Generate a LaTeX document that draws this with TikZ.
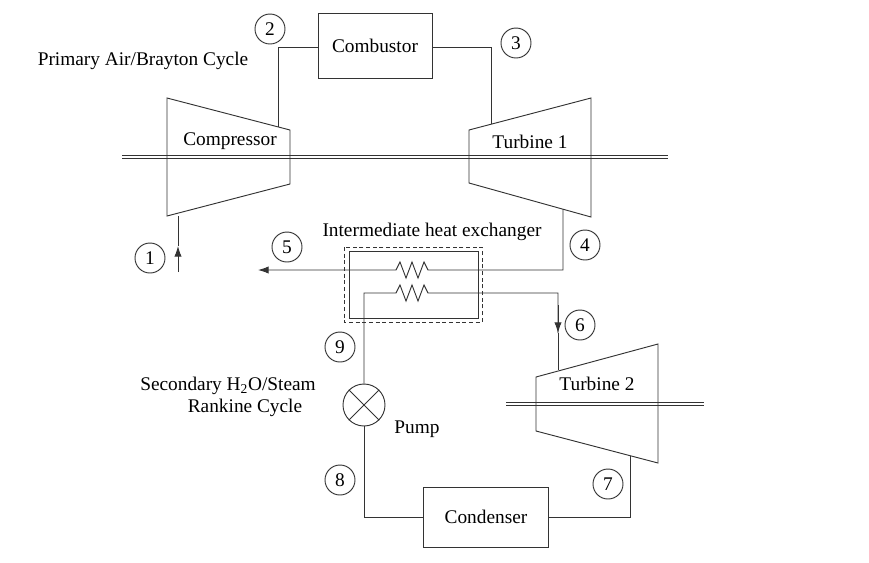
\documentclass[tikz,border=0pt]{standalone}
\usepackage{fontspec}
\setmainfont{Liberation Serif}
\usetikzlibrary{arrows.meta}
\begin{document}
\begin{tikzpicture}[x=0.75pt,y=-0.75pt,
  line width=0.7pt, draw=black!80,
  lbl/.style={font=\fontsize{14.5}{17}\selectfont},
  num/.style={circle,draw,minimum size=22.5pt,inner sep=0pt,font=\fontsize{14.5}{17}\selectfont},
  box/.style={draw,rectangle,inner sep=0pt,font=\fontsize{14.5}{17}\selectfont},
  flow/.style={-{Latex[length=8pt,width=5.5pt]}}]
\path[use as bounding box] (0,0) rectangle (869,562);

% shafts (double lines)
\draw[double distance=2pt] (122,157) -- (668,157);
\draw[double distance=2pt] (506,404) -- (704,404);

% compressor and turbines
\draw (167,98) -- (290,130) -- (290,184) -- (167,216) -- cycle;
\draw (469,130) -- (591,98) -- (591,217) -- (469,183) -- cycle;
\draw (536,377) -- (658,344) -- (658,463) -- (536,431) -- cycle;
\node[lbl] (comp) at (230,141) {Compressor};
\node[lbl] (tur1) at (530,142) {Turbine 1};
\node[lbl] (tur2) at (597,384) {Turbine 2};

% combustor and condenser
\node[box,minimum width=85.5pt,minimum height=48.75pt] (comb) at (375,45.5) {Combustor};
\node[box,minimum width=94pt,minimum height=45pt] (cond) at (486,517) {Condenser};

\coordinate (c2) at (278,127);
\coordinate (t3) at (491,124);
\draw (c2) |- (comb.west |- 0,47);
\draw (comb.east |- 0,47) -| (t3);

% inlet 1
\coordinate (in1) at (178,272);
\coordinate (in1m) at (178,246);
\draw[flow] (in1) -- (in1m);
\draw (in1m) -- (178,216);

% heat exchanger
\draw[densely dashed] (344,247) rectangle (482,322);
\draw (349,251) rectangle (478,318);
\node[lbl] (hxl) at (432,232) {Intermediate heat exchanger};

% hot side: turbine 1 out -> 5
\coordinate (t1o) at (563,209);
\coordinate (out5) at (258,270);
\draw[flow] (t1o) |- (432,270)
  -- (428,270) -- (424,262) -- (418,278) -- (412,262) -- (406,278) -- (400,262) -- (396,270) -- (393,270)
  -- (out5);

% cold side: pump -> HX -> turbine 2
\node[circle,draw,minimum size=31.5pt,inner sep=0pt] (pump) at (364,405) {};
\draw (pump.north east) -- (pump.south west) (pump.north west) -- (pump.south east);
\node[lbl] (pumpl) at (417,429) {Pump};
\coordinate (t2i) at (558,370);
\coordinate (t2m) at (558,333);
\draw (pump.north) -- (364,293) -- (393,293)
  -- (396,293) -- (400,285) -- (406,301) -- (412,285) -- (418,301) -- (424,285) -- (428,293) -- (432,293)
  -| (t2m);
\draw[flow] (558,305) -- (t2m);
\draw (t2m) -- (t2i);
\draw (pump.south) |- (cond.west);
\draw (cond.east) -| (630,456);

% state numbers
\node[num] (n1) at (150,258) {1};
\node[num] (n2) at (270,29) {2};
\node[num] (n3) at (516,43) {3};
\node[num] (n4) at (585,245) {4};
\node[num] (n5) at (287,247) {5};
\node[num] (n6) at (580,325) {6};
\node[num] (n7) at (608,484) {7};
\node[num] (n8) at (340,480) {8};
\node[num] (n9) at (340,347) {9};

% cycle labels
\node[lbl] (brayton) at (143,61) {Primary Air/Brayton Cycle};
\node[lbl] (rank1) at (228,386) {Secondary H\textsubscript{2}O/Steam};
\node[lbl] (rank2) at (245,408) {Rankine Cycle};
\end{tikzpicture}
\end{document}
